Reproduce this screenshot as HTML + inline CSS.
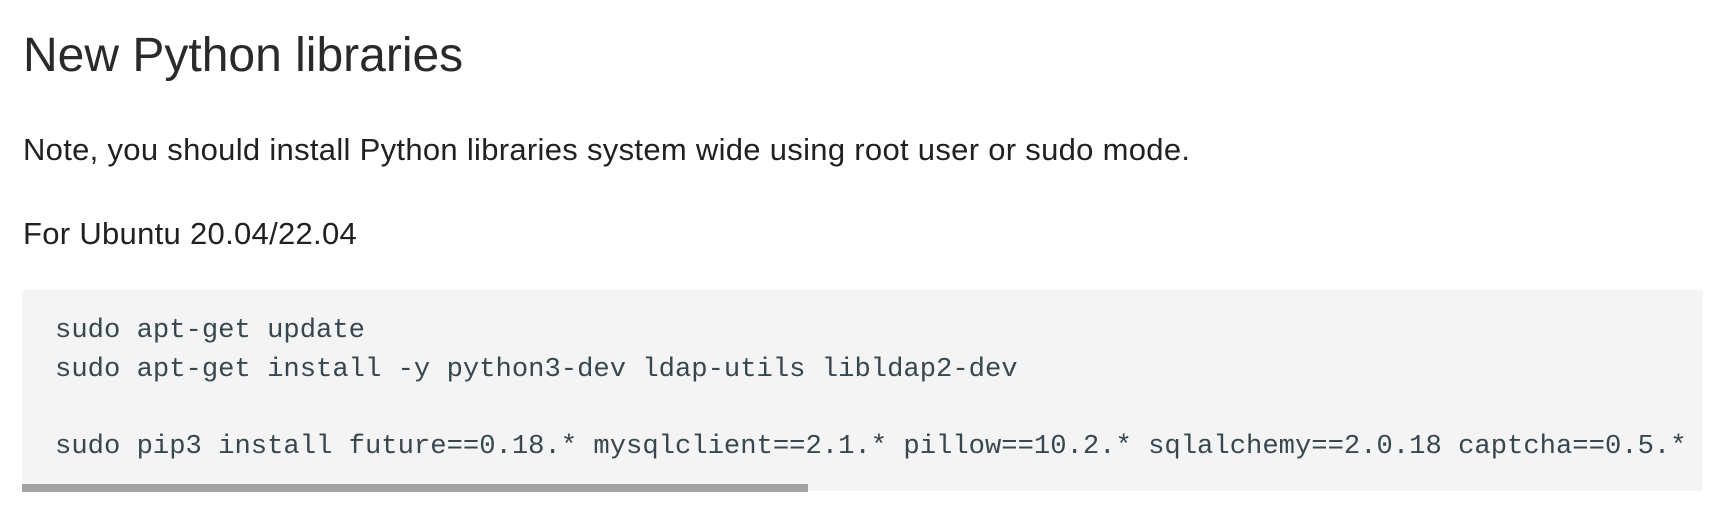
<!DOCTYPE html>
<html><head><meta charset="utf-8"><style>
html,body{margin:0;padding:0;background:#fff;width:1718px;height:512px;overflow:hidden}
body{position:relative;font-family:"Liberation Sans",sans-serif;color:#212121}
.t{position:absolute;left:23px;white-space:nowrap;line-height:1}
#h{top:32px;font-size:48px;font-weight:300;color:#2a2a2a}
#n{top:134px;font-size:31px;letter-spacing:0.3px}
#u{top:218px;font-size:31px;letter-spacing:0.3px}
#box{position:absolute;left:22px;top:290px;width:1681px;height:201px;background:#f4f4f4;border-radius:3px}
#code{position:absolute;left:55px;top:0;margin:0;font-family:"Liberation Mono",monospace;font-size:27.2px;line-height:38.5px;color:#37474f;white-space:pre}
#sb{position:absolute;left:22px;top:484px;width:786px;height:8px;background:#a3a3a3}
</style></head><body>
<div class="t" id="h">New Python libraries</div>
<div class="t" id="n">Note, you should install Python libraries system wide using root user or sudo mode.</div>
<div class="t" id="u">For Ubuntu 20.04/22.04</div>
<div id="box"></div>
<pre id="code" style="top:312px">sudo apt-get update
sudo apt-get install -y python3-dev ldap-utils libldap2-dev

sudo pip3 install future==0.18.* mysqlclient==2.1.* pillow==10.2.* sqlalchemy==2.0.18 captcha==0.5.*</pre>
<div id="sb"></div>
</body></html>
